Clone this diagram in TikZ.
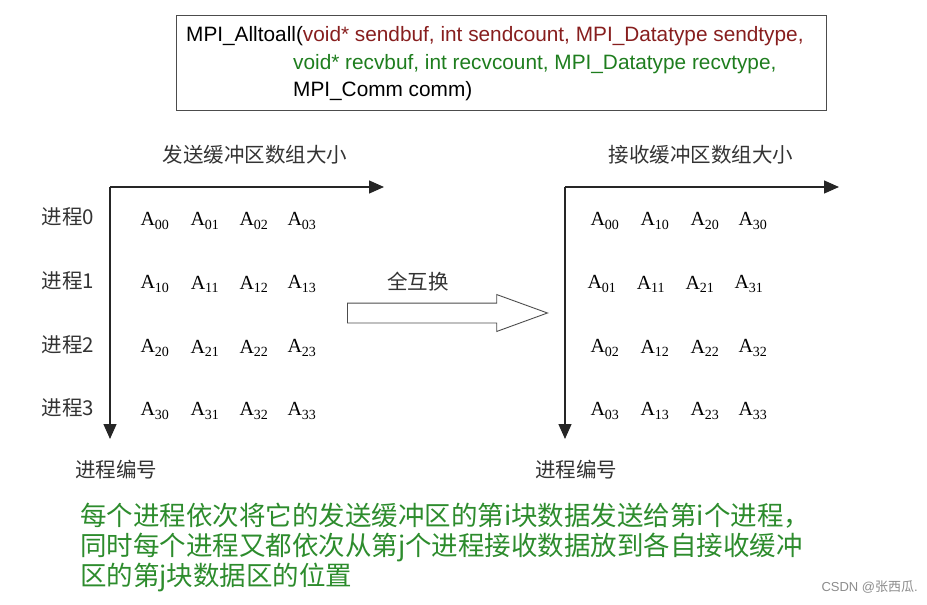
\documentclass[tikz,border=0pt]{standalone}
\usepackage{fontspec}
\setmainfont{Liberation Serif}
\newfontfamily\cjk{Noto Sans CJK SC}
\newfontfamily\arial{Liberation Sans}
\usetikzlibrary{arrows.meta, positioning, shapes.arrows}

\definecolor{sendred}{RGB}{135,30,30}
\definecolor{recvgreen}{RGB}{30,125,30}
\definecolor{notegreen}{RGB}{45,140,45}

\begin{document}
\begin{tikzpicture}[
    x=1pt, y=-1pt,
    font=\fontsize{17}{20}\selectfont,
    codeline/.style={anchor=west, inner sep=0pt, font=\arial\fontsize{20.8}{24}\selectfont},
    elem/.style={inner sep=0pt, font=\fontsize{20}{22}\selectfont},
    cjklabel/.style={inner sep=0pt, font=\cjk\fontsize{20.5}{24}\selectfont, text=black!80},
    axis/.style={-{Triangle[length=15pt, width=13pt]}, line width=1.4pt, draw=black!85}
]
\useasboundingbox (0,0) rectangle (927,605);

% Signature box
\node[draw=black!70, line width=0.8pt, minimum width=650pt, minimum height=95pt, inner sep=0pt] (sig) at (501,62.5) {};
\node[codeline] (sig1) at (186,36) {MPI\_Alltoall(\textcolor{sendred}{void* sendbuf, int sendcount, MPI\_Datatype sendtype,}};
\node[codeline] (sig2) at (293,64) {\textcolor{recvgreen}{void* recvbuf, int recvcount, MPI\_Datatype recvtype,}};
\node[codeline] (sig3) at (293,91) {MPI\_Comm comm)};

% Left axes (send buffer)
\coordinate (lcorner) at (110,187);
\coordinate (lxend) at (384,187);
\coordinate (lyend) at (110,439);
\draw[axis] (lcorner) -- (lxend);
\draw[axis] (lcorner) -- (lyend);
\node[cjklabel] (sendtitle) at (255,155) {发送缓冲区数组大小};
\node[cjklabel] (lprocno) at (116,470) {进程编号};

\node[cjklabel] (p0) at (68,217) {进程0};
\node[cjklabel] (p1) at (68,281) {进程1};
\node[cjklabel] (p2) at (68,345) {进程2};
\node[cjklabel] (p3) at (68,408) {进程3};

\node[elem] (s00) at (155,221) {A\textsubscript{00}};
\node[elem] (s01) at (205,221) {A\textsubscript{01}};
\node[elem] (s02) at (254,221) {A\textsubscript{02}};
\node[elem] (s03) at (302,221) {A\textsubscript{03}};
\node[elem] (s10) at (155,284) {A\textsubscript{10}};
\node[elem] (s11) at (205,284) {A\textsubscript{11}};
\node[elem] (s12) at (254,284) {A\textsubscript{12}};
\node[elem] (s13) at (302,284) {A\textsubscript{13}};
\node[elem] (s20) at (155,348) {A\textsubscript{20}};
\node[elem] (s21) at (205,348) {A\textsubscript{21}};
\node[elem] (s22) at (254,348) {A\textsubscript{22}};
\node[elem] (s23) at (302,348) {A\textsubscript{23}};
\node[elem] (s30) at (155,411) {A\textsubscript{30}};
\node[elem] (s31) at (205,411) {A\textsubscript{31}};
\node[elem] (s32) at (254,411) {A\textsubscript{32}};
\node[elem] (s33) at (302,411) {A\textsubscript{33}};

% Exchange arrow
\node[single arrow, draw=black!70, line width=0.9pt, minimum height=200pt, inner xsep=0pt, inner ysep=9.5pt, single arrow head extend=8.5pt, single arrow tip angle=40, anchor=tail] (swap) at (347,313) {};
\node[cjklabel] (swaplabel) at (418,282) {全互换};

% Right axes (receive buffer)
\coordinate (rcorner) at (565,187);
\coordinate (rxend) at (839,187);
\coordinate (ryend) at (565,439);
\draw[axis] (rcorner) -- (rxend);
\draw[axis] (rcorner) -- (ryend);
\node[cjklabel] (recvtitle) at (701,155) {接收缓冲区数组大小};
\node[cjklabel] (rprocno) at (576,470) {进程编号};

\node[elem] (r00) at (605,221) {A\textsubscript{00}};
\node[elem] (r01) at (655,221) {A\textsubscript{10}};
\node[elem] (r02) at (705,221) {A\textsubscript{20}};
\node[elem] (r03) at (753,221) {A\textsubscript{30}};
\node[elem] (r10) at (602,284) {A\textsubscript{01}};
\node[elem] (r11) at (651,284) {A\textsubscript{11}};
\node[elem] (r12) at (700,284) {A\textsubscript{21}};
\node[elem] (r13) at (749,284) {A\textsubscript{31}};
\node[elem] (r20) at (605,348) {A\textsubscript{02}};
\node[elem] (r21) at (655,348) {A\textsubscript{12}};
\node[elem] (r22) at (705,348) {A\textsubscript{22}};
\node[elem] (r23) at (753,348) {A\textsubscript{32}};
\node[elem] (r30) at (605,411) {A\textsubscript{03}};
\node[elem] (r31) at (655,411) {A\textsubscript{13}};
\node[elem] (r32) at (705,411) {A\textsubscript{23}};
\node[elem] (r33) at (753,411) {A\textsubscript{33}};

% Explanation
\node[anchor=north west, inner sep=0pt, align=left, text=notegreen, font=\cjk\fontsize{26.5}{30}\selectfont] (note) at (80,503) {每个进程依次将它的发送缓冲区的第i块数据发送给第i个进程，\\同时每个进程又都依次从第j个进程接收数据放到各自接收缓冲\\区的第j块数据区的位置};

% Watermark
\node[anchor=east, inner sep=0pt, text=black!45, font=\arial\fontsize{13}{15}\selectfont] (mark) at (918,587) {CSDN @{\cjk 张西瓜}.};
\end{tikzpicture}
\end{document}
